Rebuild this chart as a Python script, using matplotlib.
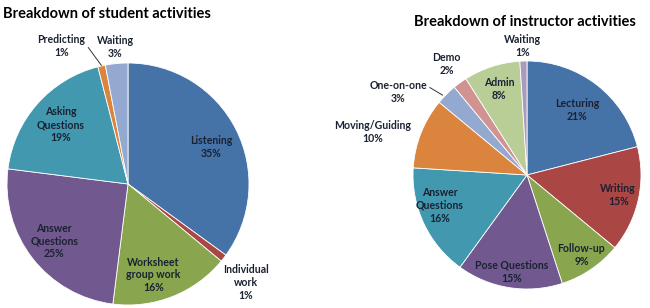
import numpy as np
import matplotlib.pyplot as plt

# ---------------- data ----------------
stu_labels = ['Listening', 'Individual\nwork', 'Worksheet\ngroup work', 'Answer\nQuestions',
              'Asking\nQuestions', 'Predicting', 'Waiting']
stu_pct    = [35, 1, 16, 25, 19, 1, 3]

ins_labels = ['Lecturing', 'Writing', 'Follow-up', 'Pose Questions', 'Answer\nQuestions',
              'Moving/Guiding', 'One-on-one', 'Demo', 'Admin', 'Waiting']
ins_pct    = [21, 15, 9, 15, 16, 10, 3, 2, 8, 1]

# excel-ish palette
blue, red, green, purple = '#4572A7', '#AA4643', '#89A54E', '#71588F'
aqua, orange = '#4198AF', '#DB843D'
lblue, lred, lgreen, lpurple = '#93A9CF', '#D19392', '#B9CD96', '#A99BBD'

stu_colors = [blue, red, green, purple, aqua, orange, lblue]
ins_colors = [blue, red, green, purple, aqua, orange, lblue, lred, lgreen, lpurple]

plt.rcParams['font.family'] = ['Lato', 'DejaVu Sans']
txtcol = '#1A2232'
fs = 7.6

fig = plt.figure(figsize=(6.5, 3.08), dpi=100)
W, H = 650, 308

def pie_axes(cx, cy, r):
    # pixel centre / radius -> axes rect
    return fig.add_axes([(cx - r) / W, (H - cy - r) / H, 2 * r / W, 2 * r / H])

def draw_pie(ax, pct, colors, labels, dist, nudge):
    wedges, _ = ax.pie(pct, colors=colors, startangle=90, counterclock=False,
                       radius=1, wedgeprops=dict(edgecolor='white', linewidth=0.6))
    for i, w in enumerate(wedges):
        if dist[i] is None:
            continue
        th = np.deg2rad((w.theta1 + w.theta2) / 2 + nudge.get(i, 0))
        ax.text(dist[i] * np.cos(th), dist[i] * np.sin(th), f'{labels[i]}\n{pct[i]}%',
                ha='center', va='center', fontsize=fs, fontweight='bold',
                color=txtcol, linespacing=1.2)
    ax.set_xlim(-1, 1)
    ax.set_ylim(-1, 1)
    ax.set_aspect('equal')
    ax.axis('off')
    return wedges

# ---------------- student ----------------
ax1 = pie_axes(128, 184, 121)
draw_pie(ax1, stu_pct, stu_colors, stu_labels,
         [0.75, 1.27, 0.78, 0.77, 0.74, None, 1.14], {0: -3, 2: -6, 1: -2})
ax1.annotate(f'{stu_labels[5]}\n{stu_pct[5]}%', xy=(-0.22, 0.98), xytext=(-0.55, 1.14),
             ha='center', va='center', fontsize=fs, fontweight='bold', color=txtcol,
             linespacing=1.2,
             arrowprops=dict(arrowstyle='-', color='#333333', lw=0.7,
                             shrinkA=0, shrinkB=0, relpos=(1.0, 0.6)))
fig.text(3 / W, 1 - 14 / H, 'Breakdown of student activities', ha='left', va='center',
         fontsize=10.5, fontweight='bold', color='black')

# ---------------- instructor ----------------
ax2 = pie_axes(527, 175, 114)
draw_pie(ax2, ins_pct, ins_colors, ins_labels,
         [0.72, 0.82, 0.85, 0.86, 0.81, 1.41, None, 1.2, 0.79, 1.13],
         {5: 6, 4: -6})
ax2.annotate(f'{ins_labels[6]}\n{ins_pct[6]}%', xy=(-0.74, 0.7), xytext=(-1.13, 0.73),
             ha='center', va='center', fontsize=fs, fontweight='bold', color=txtcol,
             linespacing=1.2,
             arrowprops=dict(arrowstyle='-', color='#333333', lw=0.7,
                             shrinkA=0, shrinkB=0, relpos=(1.0, 0.75)))
fig.text(525 / W, 1 - 22 / H, 'Breakdown of instructor activities', ha='center',
         va='center', fontsize=10.5, fontweight='bold', color='black')

fig.savefig('out.png', dpi=100)
